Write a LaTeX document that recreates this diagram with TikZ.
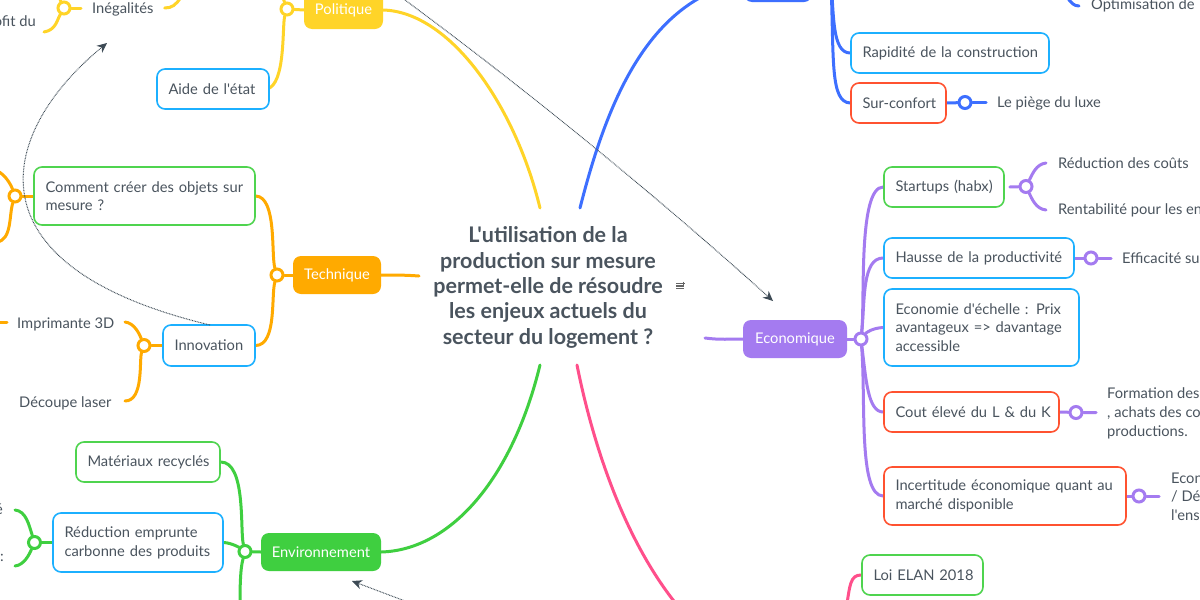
\documentclass[tikz,border=0pt]{standalone}
\usepackage{fontspec}
\newfontfamily\lato{Lato}
\usetikzlibrary{backgrounds,arrows.meta}
\definecolor{cyel}{HTML}{FFD428}
\definecolor{cora}{HTML}{FFAA00}
\definecolor{cgre}{HTML}{3FCF40}
\definecolor{cblu}{HTML}{3D6FFF}
\definecolor{cpur}{HTML}{A47BF0}
\definecolor{cpin}{HTML}{FF4F8B}
\definecolor{bgre}{HTML}{4FD44F}
\definecolor{bblu}{HTML}{1CB0FF}
\definecolor{bred}{HTML}{FF5230}
\definecolor{ctxt}{HTML}{4A545E}
\definecolor{cdot}{HTML}{3D4A55}
\newcommand\tl[1]{\mbox{#1}}
\hbadness=10000 \hfuzz=200pt
\tikzset{
  x=1pt,y=-1pt,
  every node/.style={text=ctxt,font=\lato\fontsize{14.7}{18.7}\selectfont},
  bx/.style n args={3}{draw=#3,line width=1.6pt,fill=white,rounded corners=8pt,inner xsep=11.5pt,inner ysep=0pt,
    text width=#1pt-23pt,minimum height=#2pt,align=left},
  main/.style n args={3}{fill=#3,rounded corners=8pt,minimum width=#1pt,minimum height=#2pt,inner sep=0pt,
    text=white,align=center},
  leaf/.style={anchor=west,inner sep=0pt,align=left},
  leafr/.style={anchor=east,inner sep=0pt,align=right},
  hub/.style={circle,draw=#1,fill=white,line width=3pt,minimum size=12pt,inner sep=0pt},
  con/.style={draw=#1,line width=3pt,line cap=round},
  rel/.style={draw=cdot,line width=1pt,dash pattern=on .8pt off .8pt,-{Stealth[length=10pt,width=9pt]}},
}
\begin{document}
\begin{tikzpicture}
\clip (0,0) rectangle (1200,600);
\useasboundingbox (0,0) rectangle (1200,600);
% centre
\node[inner sep=0pt,align=center,font=\lato\fontsize{21.5}{25.4}\selectfont\bfseries] (root) at (548,287.5)
  {L'utilisation de la\\production sur mesure\\permet-elle de résoudre\\les enjeux actuels du\\secteur du logement ?};
% main topics
\node[main={79}{38}{cyel}] (pol) at (343.5,10) {Politique};
\node[main={88}{38}{cora}] (tec) at (337,275) {Technique};
\node[main={120}{38}{cgre}] (env) at (321,552) {Environnement};
\node[main={104}{38}{cpur}] (eco) at (795,339) {Economique};
\node[main={68}{40}{cblu}] (soc) at (778,-18) {};
% boxes
\node[bx={112}{40}{bblu}] (aide) at (213,89) {\tl{Aide de l'état}};
\node[bx={221}{58}{bgre}] (comment) at (144.5,196) {\tl{Comment créer des objets sur}\\\tl{mesure ?}};
\node[bx={92}{41}{bblu}] (inno) at (209,345.5) {\tl{Innovation}};
\node[bx={144}{40}{bgre}] (mat) at (148,462) {\tl{Matériaux recyclés}};
\node[bx={170}{59}{bblu}] (red) at (138,542.5) {\tl{Réduction emprunte}\\\tl{carbonne des produits}};
\node[bx={198}{40}{bblu}] (rap) at (950,53) {\tl{Rapidité de la construction}};
\node[bx={95}{40}{bred}] (sur) at (898.5,103) {\tl{Sur-confort}};
\node[bx={120}{40}{bgre}] (sta) at (944,187) {\tl{Startups (habx)}};
\node[bx={190}{40}{bblu}] (hau) at (979,258) {\tl{Hausse de la productivité}};
\node[bx={195}{77}{bblu}] (ech) at (981.5,327.5) {\tl{Economie d'échelle : Prix}\\\tl{avantageux => davantage}\\\tl{accessible}};
\node[bx={175}{40}{bred}] (cou) at (971.5,412) {\tl{Cout élevé du L \& du K}};
\node[bx={242}{58}{bred}] (inc) at (1005,496) {\tl{Incertitude économique quant au}\\\tl{marché disponible}};
\node[bx={121}{40}{bgre}] (loi) at (922.5,575) {\tl{Loi ELAN 2018}};
% leaves
\node[leaf] (ine) at (92,9.5) {Inégalités};
\node[leafr] (profit) at (36,21.5) {ofit du};
\node[leaf] (imp) at (17,324) {Imprimante 3D};
\node[leaf] (dec) at (19,403) {Découpe laser};
\node[leafr] (le) at (3,509) {é};
\node[leafr] (lc) at (4,558) {:};
\node[leaf] (opt) at (1091,5.5) {Optimisation de};
\node[leaf] (pie) at (997,103.5) {Le piège du luxe};
\node[leaf] (rdc) at (1058,163.5) {Réduction des coûts};
\node[leaf] (ren) at (1058,210.5) {Rentabilité pour les en};
\node[leaf] (eff) at (1122,258.5) {Efficacité su};
\node[leaf] (for) at (1107,413.5) {Formation des\\, achats des co\\productions.};
\node[leaf] (eci) at (1171,496.5) {Econ\\/ Dé\\l'ens};
% hubs
\node[hub=cyel] (hine) at (64,8) {};
\node[hub=cyel] (hpol) at (287,9) {};
\node[hub=cora] (hcom) at (15,196) {};
\node[hub=cora] (htec) at (277,275) {};
\node[hub=cora] (hinn) at (144,345.5) {};
\node[hub=cgre] (henv) at (245,551.5) {};
\node[hub=cgre] (hred) at (34.5,542.5) {};
\node[hub=cblu] (hsur) at (965,102.5) {};
\node[hub=cpur] (heco) at (861,339) {};
\node[hub=cpur] (hsta) at (1026,186.5) {};
\node[hub=cpur] (hhau) at (1091,258) {};
\node[hub=cpur] (hcou) at (1076,412.5) {};
\node[hub=cpur] (hinc) at (1139,496) {};
% free ends
\coordinate (rootN1) at (540,208);
\coordinate (rootN2) at (580,208);
\coordinate (rootW) at (419,276);
\coordinate (rootS1) at (540,365);
\coordinate (rootS2) at (577,365);
\coordinate (rootE) at (705,338);
\coordinate (pinkend) at (690,620);
\coordinate (lawend) at (846,610);
\coordinate (envdown) at (240,610);
\coordinate (socdown) at (831,-18);
\coordinate (a1s) at (405,0);
\coordinate (a1e) at (773,301);
\coordinate (a2s) at (210,325);
\coordinate (a2e) at (107,43);
\coordinate (a3s) at (405,601);
\coordinate (a3e) at (352,581);
\begin{pgfonlayer}{background}
\fill[white] (0,0) rectangle (1200,600);
% centre branches
\draw[con=cyel] (pol.east) .. controls (450,12) and (515,105) .. (rootN1);
\draw[con=cblu] (rootN2) .. controls (605,110) and (645,0) .. (soc.west);
\draw[con=cora] (tec.east) .. controls (395,275) and (405,275) .. (rootW);
\draw[con=cgre] (env.east) .. controls (450,550) and (512,480) .. (rootS1);
\draw[con=cpin] (rootS2) .. controls (592,440) and (625,550) .. (pinkend);
\draw[con=cpur] (rootE) .. controls (720,340) and (730,339) .. (eco.west);
% politique
\draw[con=cyel] (pol.west) -- (hpol);
\draw[con=cyel] (hpol) .. controls (282,25) and (286,85) .. ([xshift=-3pt]aide.east);
\draw[con=cyel] (hpol) -- (282,-5);
\draw[con=cyel] (ine.west) ++(-11,-1.5) -- (hine);
\draw[con=cyel] (hine) .. controls (57,20) and (56,30) .. (44,32);
\draw[con=cyel] (hine) -- (58,-5);
\draw[con=cyel] (ine.east) ++(11,-1.5) .. controls (172,8) and (176,5) .. (181,-3);
% technique
\draw[con=cora] (tec.west) -- (htec);
\draw[con=cora] (htec) .. controls (271,255) and (277,197) .. (comment.east);
\draw[con=cora] (htec) .. controls (271,295) and (277,345) .. (inno.east);
\draw[con=cora] (comment.west) -- (hcom);
\draw[con=cora] (hcom) .. controls (11,185) and (5,174) .. (-3,171);
\draw[con=cora] (hcom) .. controls (9,215) and (12,240) .. (-3,242);
\draw[con=cora] (inno.west) -- (hinn);
\draw[con=cora] (hinn) .. controls (139,333) and (134,323) .. (125,322);
\draw[con=cora] (hinn) .. controls (139,360) and (144,401) .. (125,401);
\draw[con=cora] (imp.west) ++(-10,-2) -- (-3,322);
% environnement
\draw[con=cgre] (env.west) -- (henv);
\draw[con=cgre] (henv) .. controls (240,530) and (246,462) .. (mat.east);
\draw[con=cgre] (henv) .. controls (240,548) and (232,543) .. (red.east);
\draw[con=cgre] (henv) .. controls (240,570) and (240,590) .. (envdown);
\draw[con=cgre] (red.west) -- (hred);
\draw[con=cgre] (hred) .. controls (29,525) and (26,511) .. (15,510);
\draw[con=cgre] (hred) .. controls (29,555) and (24,565) .. (15,566);
% soc
\draw[con=cblu] (socdown) .. controls (834,15) and (832,53) .. (rap.west);
\draw[con=cblu] (socdown) .. controls (834,60) and (830,102) .. (sur.west);
\draw[con=cblu] (sur.east) -- (hsur);
\draw[con=cblu] (hsur) -- (986,102.5);
\draw[con=cblu] (1079,6) .. controls (1074,6) and (1071,3) .. (1067,-3);
% economique
\draw[con=cpur] (eco.east) -- (heco);
\draw[con=cpur] (heco) .. controls (865,300) and (858,187) .. (sta.west);
\draw[con=cpur] (heco) .. controls (865,300) and (862,258) .. (hau.west);
\draw[con=cpur] (heco) .. controls (866,333) and (872,328) .. (ech.west);
\draw[con=cpur] (heco) .. controls (866,380) and (868,412) .. (cou.west);
\draw[con=cpur] (heco) .. controls (866,400) and (858,496) .. (inc.west);
\draw[con=cpur] ([xshift=5pt]sta.east) -- (hsta);
\draw[con=cpur] (hsta) .. controls (1032,175) and (1036,164) .. (1046,163);
\draw[con=cpur] (hsta) .. controls (1032,199) and (1036,209) .. (1046,210);
\draw[con=cpur] (hau.east) -- (hhau) -- (1111,258);
\draw[con=cpur] (cou.east) -- (hcou) -- (1096,412.5);
\draw[con=cpur] ([xshift=-3pt]inc.east) -- (hinc) -- (1159,496);
\draw[con=cpin] (lawend) .. controls (850,585) and (850,575) .. (loi.west);
\end{pgfonlayer}
% relations
\draw[rel] (a1s) .. controls (520,85) and (650,190) .. (a1e);
\draw[rel] (a2s) .. controls (-40,265) and (1,130) .. (a2e);
\draw[rel] (a3s) -- (a3e);
% note icon
\draw[gray!80!black,line width=1.2pt] (676,283.5) -- (682,283.5) (676,286) -- (684,286) (676,288.5) -- (684,288.5);
\draw[gray!80!black,line width=.7pt] (683.5,281.5) -- (683.5,285) (682,283) -- (685,283);
\end{tikzpicture}
\end{document}
